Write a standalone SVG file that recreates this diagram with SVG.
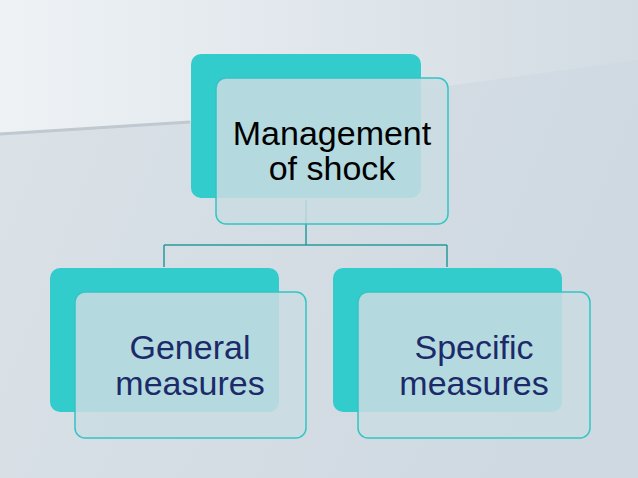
<svg xmlns="http://www.w3.org/2000/svg" width="638" height="478" viewBox="0 0 638 478">
<defs>
<linearGradient id="bg" x1="0" y1="0" x2="1" y2="0.3"><stop offset="0" stop-color="#dbe2e8"/><stop offset="1" stop-color="#cfd9e1"/></linearGradient>
<linearGradient id="hl" x1="0" y1="0" x2="1" y2="0"><stop offset="0" stop-color="#eef2f5"/><stop offset="0.6" stop-color="#dde4ea"/><stop offset="1" stop-color="#d3dce3"/></linearGradient>
<style>
.back{fill:#33cccc}
.front{fill:#cadce2;fill-opacity:0.86;stroke:#33c4c4;stroke-width:1.5}
.t{font-family:"Liberation Sans",Arial,sans-serif;font-size:34px;text-anchor:middle}
.c{fill:none;stroke:#2a9a9c;stroke-width:1.5}
</style>
</defs>
<rect width="638" height="478" fill="url(#bg)"/>
<polygon points="0,0 638,0 638,60 190,121 0,133" fill="url(#hl)"/>
<line x1="0" y1="134" x2="190" y2="122" stroke="#c0c8d0" stroke-width="3"/>
<g id="connectors">
<path class="c" d="M306,200 V245 M164,245 H447 M164,245 V267 M447,245 V267"/>
</g>
<g id="n1">
<rect class="back" x="191" y="54" width="230" height="144" rx="10"/>
<rect class="front" x="216" y="78" width="232" height="146" rx="10"/>
<text class="t" x="332" y="145" fill="#000">Management</text>
<text class="t" x="332" y="180" fill="#000">of shock</text>
</g>
<g id="n2">
<rect class="back" x="50" y="268" width="229" height="144" rx="10"/>
<rect class="front" x="75" y="292" width="231" height="146" rx="10"/>
<text class="t" x="190" y="359" fill="#1c2a6a">General</text>
<text class="t" x="190" y="395" fill="#1c2a6a">measures</text>
</g>
<g id="n3">
<rect class="back" x="333" y="268" width="229" height="144" rx="10"/>
<rect class="front" x="358" y="292" width="232" height="146" rx="10"/>
<text class="t" x="474" y="359" fill="#1c2a6a">Specific</text>
<text class="t" x="474" y="395" fill="#1c2a6a">measures</text>
</g>
</svg>
